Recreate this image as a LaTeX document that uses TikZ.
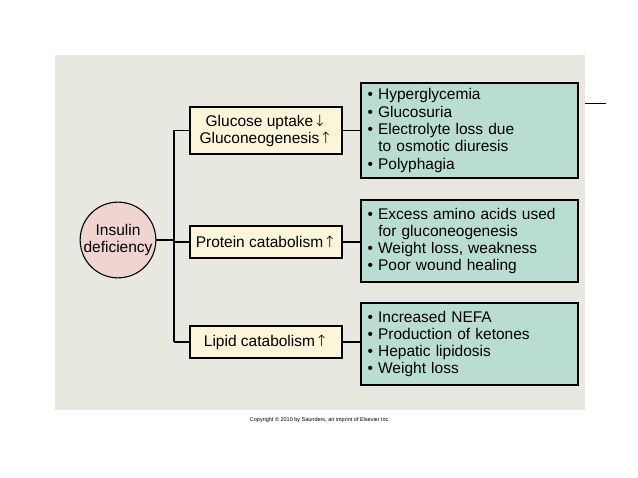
\documentclass[tikz,border=0pt]{standalone}
\usepackage{fontspec}
\setmainfont{Liberation Sans}
\newfontfamily\arrfont{DejaVu Sans ExtraLight}
\definecolor{panel}{HTML}{E9E8E0}
\definecolor{causebox}{HTML}{FDF5D9}
\definecolor{effectbox}{HTML}{B9DDD3}
\definecolor{insulin}{HTML}{F0D4D0}
\newcommand{\up}{{\arrfont\char"2191}}
\newcommand{\down}{{\arrfont\char"2193}}
\tikzset{
  cause/.style={draw, line width=1.1pt, fill=causebox, align=center,
    minimum width=152pt, inner sep=0pt, font=\fontsize{15.5}{17}\selectfont},
  effect/.style={draw, line width=1.1pt, fill=effectbox, align=left,
    text width=204pt, minimum width=217pt, inner sep=0pt,
    font=\fontsize{15.5}{17.3}\selectfont},
  link/.style={line width=1.1pt}
}
\begin{document}
\begin{tikzpicture}[x=1pt,y=-1pt]
   \useasboundingbox (0,0) rectangle (638,478);
   \fill[panel] (55,55) rectangle (585,410);
   \draw[line width=0.8pt] (585,103) -- (606,103);
   % left circle
   \node[circle, draw, line width=1.1pt, fill=insulin, minimum size=74pt,
     inner sep=0pt, align=center, font=\fontsize{15.5}{17}\selectfont]
     (insulin) at (118,240) {Insulin\\deficiency};
   % middle column
   \node[cause, minimum height=47pt] (glucose) at (266,130.5)
     {Glucose uptake\down\\Gluconeogenesis\up};
   \node[cause, minimum height=32pt] (protein) at (266,242) {Protein catabolism\up};
   \node[cause, minimum height=32pt] (lipid) at (266,342) {Lipid catabolism\up};
   % right column
   \node[effect, minimum height=95pt] (hyper) at (469.5,130.5)
     {\textbullet\ Hyperglycemia\\\textbullet\ Glucosuria\\\textbullet\ Electrolyte loss due\\\hspace*{0.7em}to osmotic diuresis\\\textbullet\ Polyphagia};
   \node[effect, minimum height=82pt] (amino) at (469.5,241)
     {\textbullet\ Excess amino acids used\\\hspace*{0.7em}for gluconeogenesis\\\textbullet\ Weight loss, weakness\\\textbullet\ Poor wound healing};
   \node[effect, minimum height=82pt] (nefa) at (469.5,344)
     {\textbullet\ Increased NEFA\\\textbullet\ Production of ketones\\\textbullet\ Hepatic lipidosis\\\textbullet\ Weight loss};
   % connectors
   \coordinate (trunk top) at (174,130.5);
   \coordinate (trunk bottom) at (174,342);
   \draw[link] (trunk top) -- (trunk bottom);
   \draw[link] (insulin) -- (insulin -| trunk top);
   \draw[link] (trunk top) -- (glucose);
   \draw[link] (protein -| trunk top) -- (protein);
   \draw[link] (trunk bottom) -- (lipid);
   \draw[link] (glucose) -- (glucose -| hyper.west);
   \draw[link] (protein) -- (protein -| amino.west);
   \draw[link] (lipid) -- (lipid -| nefa.west);
   \node[font=\fontsize{5.5}{6}\selectfont] (copyright) at (320,420)
     {Copyright © 2010 by Saunders, an imprint of Elsevier Inc.};
\end{tikzpicture}
\end{document}
